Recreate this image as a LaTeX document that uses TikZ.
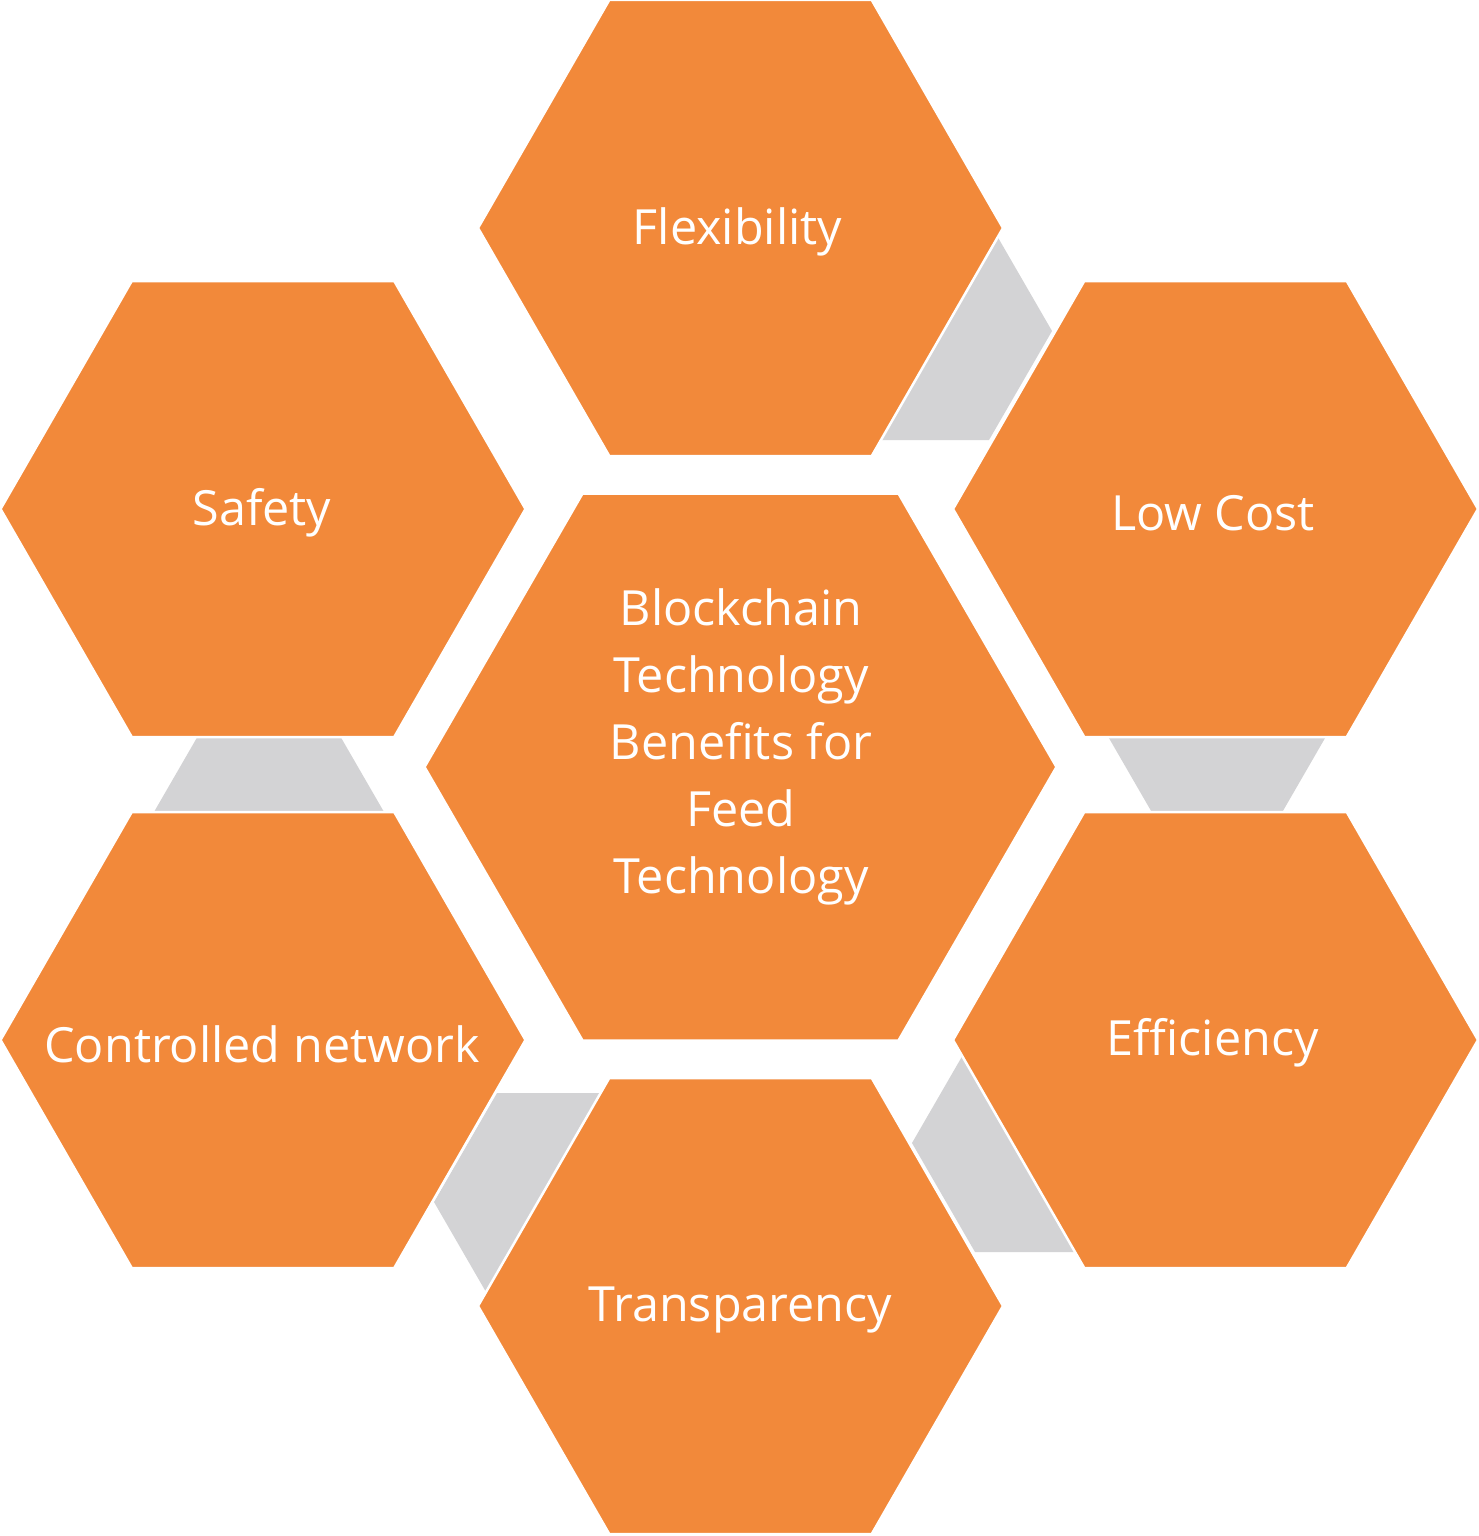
\documentclass[tikz,border=0pt]{standalone}
\usepackage{fontspec}
\setmainfont{Open Sans}
\definecolor{hexorange}{RGB}{242,137,58}
\definecolor{hexgray}{RGB}{211,211,213}
% #1 style, #2 cx, #3 cy, #4 half width, #5 half height
\newcommand\myhex[5]{%
  \path[#1] ({#2-#4},#3) -- ({#2-#4/2},{#3-#5}) -- ({#2+#4/2},{#3-#5})
    -- ({#2+#4},#3) -- ({#2+#4/2},{#3+#5}) -- ({#2-#4/2},{#3+#5}) -- cycle;}
\begin{document}
\begin{tikzpicture}[x=1pt,y=-1pt,
  orangehex/.style={fill=hexorange, draw=white, line width=2.5pt, line join=miter},
  grayhex/.style={fill=hexgray},
  lbl/.style={text=white, font=\fontsize{48.5}{67}\selectfont, inner sep=0pt, anchor=base},
  centerlbl/.style={text=white, font=\fontsize{48.5}{67}\selectfont, inner sep=0pt, align=center}]
\useasboundingbox (0,0) rectangle (1478,1536);
\fill[white] (0,0) rectangle (1478,1536);
% gray connector hexagons
\myhex{grayhex}{926}{331}{126}{109}
\myhex{grayhex}{1217}{707}{126}{109}
\myhex{grayhex}{1038}{1143}{126}{109}
\myhex{grayhex}{560}{1202}{126}{109}
\myhex{grayhex}{269}{831}{126}{109}
% orange hexagons
\myhex{orangehex}{740.5}{228}{262.5}{228}
\myhex{orangehex}{263}{509}{262.5}{228}
\myhex{orangehex}{1215.5}{509}{262.5}{228}
\myhex{orangehex}{263}{1040}{262.5}{228}
\myhex{orangehex}{1215.5}{1040}{262.5}{228}
\myhex{orangehex}{740.5}{1306}{262.5}{228}
\myhex{orangehex}{740.5}{767}{316}{273.5}
% labels
\node[lbl] (flex) at (737.5,244) {Flexibility};
\node[lbl] (safety) at (262,525) {Safety};
\node[lbl] (lowcost) at (1213,530) {Low Cost};
\node[lbl] (ctrl) at (262,1062) {Controlled network};
\node[lbl] (eff) at (1212.5,1055) {Efficiency};
\node[lbl] (trans) at (740.5,1321) {Transparency};
\node[centerlbl] (core) at (741,747) {Blockchain\\Technology\\Benefits for\\Feed\\Technology};
\end{tikzpicture}
\end{document}
